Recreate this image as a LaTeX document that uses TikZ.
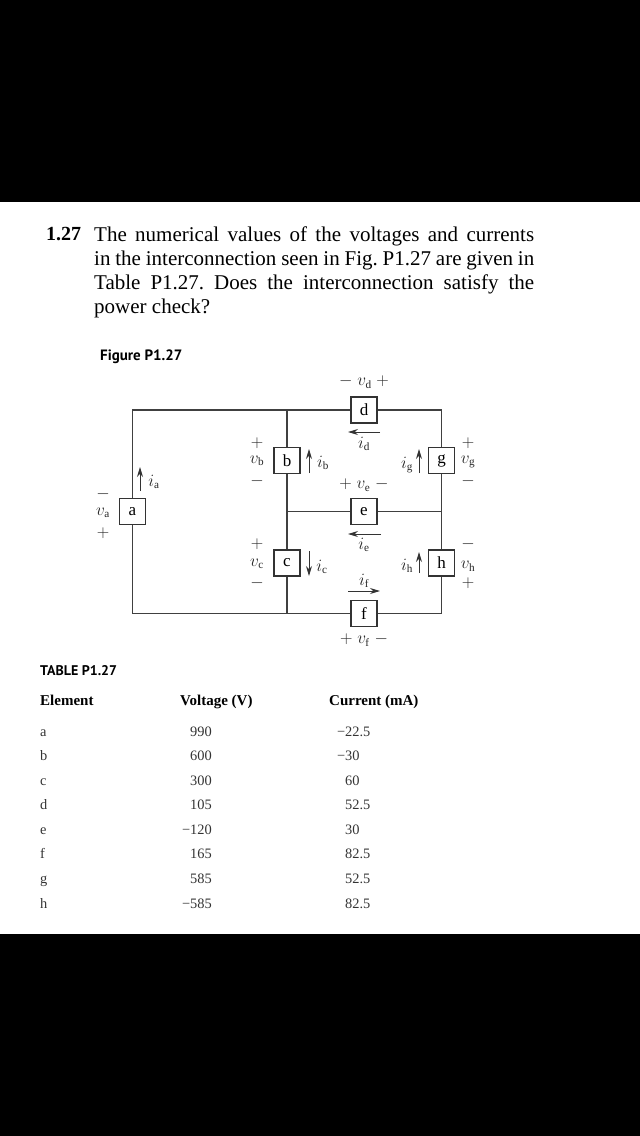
\documentclass[tikz,border=0pt]{standalone}
\usepackage{fontspec}
\setmainfont{Liberation Serif}
\newfontfamily\headfont{PT Sans}
\usepackage{tikz}
\usetikzlibrary{arrows.meta}
\frenchspacing

\begin{document}
\begin{tikzpicture}[x=1pt,y=-1pt,>={Stealth[length=10pt,width=6pt]},
    elem/.style={draw=black!80,line width=1.1pt,fill=white,minimum size=26pt,inner sep=0pt,font=\fontsize{17}{19}\selectfont},
    lab/.style={inner sep=0pt,text=black!85,font=\fontsize{16}{18}\selectfont},
    cell/.style={inner sep=0pt,text=black!80,font=\fontsize{14.4}{16}\selectfont},
    head/.style={inner sep=0pt,anchor=base west,font=\fontsize{15}{17}\selectfont\bfseries},
    sect/.style={inner sep=0pt,anchor=base west,font=\headfont\fontsize{14}{16}\selectfont\bfseries},
    wire/.style={draw=black!75,line width=1.1pt},
    cur/.style={->,draw=black!80,line width=0.9pt}]
    \useasboundingbox (0,0) rectangle (640,1136);
    \fill[black] (0,0) rectangle (640,202);
    \fill[black] (0,934) rectangle (640,1136);

    % problem text
    \node[inner sep=0pt,anchor=base west,font=\fontsize{20}{24}\selectfont\bfseries] (num) at (46,240.5) {1.27};
    \node[inner sep=0pt,anchor=north west,text width=440pt,align=justify,font=\fontsize{21}{24}\selectfont] (prob) at (94,226.5)
      {The numerical values of the voltages and currents\linebreak
       in the interconnection seen in Fig.~P1.27 are given in\linebreak
       Table P1.27. Does the interconnection satisfy the\linebreak
       power check?};
    \node[sect,font=\headfont\fontsize{15}{17}\selectfont\bfseries] (figtitle) at (100,360) {Figure P1.27};

    % circuit
    \node[elem] (a) at (132.5,511.5) {a};
    \node[elem] (b) at (287,460.5) {b};
    \node[elem] (c) at (287,563) {c};
    \node[elem] (d) at (364,410) {d};
    \node[elem] (e) at (364,511.5) {e};
    \node[elem] (f) at (364,613.5) {f};
    \node[elem] (g) at (441.5,460.5) {g};
    \node[elem] (h) at (441.5,563) {h};

    \coordinate (tl) at (132.5,410);
    \coordinate (tm) at (287,410);
    \coordinate (tr) at (441.5,410);
    \coordinate (mm) at (287,511.5);
    \coordinate (mr) at (441.5,511.5);
    \coordinate (bl) at (132.5,613.5);
    \coordinate (bm) at (287,613.5);
    \coordinate (br) at (441.5,613.5);

    \path[wire] (a) -- (tl) -- (tm) -- (d) -- (tr) -- (g) -- (mr) -- (h) -- (br) -- (f) -- (bm) -- (bl) -- (a);
    \path[wire] (tm) -- (b) -- (mm) -- (c) -- (bm);
    \path[wire] (mm) -- (e) -- (mr);

    % currents
    \coordinate (ia0) at (140,491); \coordinate (ia1) at (140,467);
    \coordinate (ib0) at (309,473); \coordinate (ib1) at (309,449);
    \coordinate (ic0) at (309,551); \coordinate (ic1) at (309,576);
    \coordinate (id0) at (380,432); \coordinate (id1) at (348,432);
    \coordinate (ie0) at (381,534); \coordinate (ie1) at (348,534);
    \coordinate (if0) at (348,591); \coordinate (if1) at (380,591);
    \coordinate (ig0) at (419,473); \coordinate (ig1) at (419,449);
    \coordinate (ih0) at (419,573); \coordinate (ih1) at (419,552);
    \foreach \p in {a,b,c,d,e,f,g,h}
      \draw[cur] (i\p0) -- (i\p1);

    \node[lab] (lia) at (154,482) {$i_{\mathrm a}$};
    \node[lab] (lib) at (323,463) {$i_{\mathrm b}$};
    \node[lab] (lic) at (322,567) {$i_{\mathrm c}$};
    \node[lab] (lid) at (364,444) {$i_{\mathrm d}$};
    \node[lab] (lie) at (364,545) {$i_{\mathrm e}$};
    \node[lab] (lif) at (364,581) {$i_{\mathrm f}$};
    \node[lab] (lig) at (407,465) {$i_{\mathrm g}$};
    \node[lab] (lih) at (407,566) {$i_{\mathrm h}$};

    % voltages
    \foreach \p/\px/\ptop/\pmid/\pbot/\pa/\pb in {
        a/103/494/513/533/$-$/$+$,
        b/257/443/461/481/$+$/$-$,
        c/257/544/564/583/$+$/$-$,
        g/468/443/462/481/$+$/$-$,
        h/468/544/566/583/$-$/$+$} {
      \node[lab] (v\p top) at (\px,\ptop) {\pa};
      \node[lab] (v\p) at (\px,\pmid) {$v_{\mathrm \p}$};
      \node[lab] (v\p bot) at (\px,\pbot) {\pb};
    }
    \node[lab] (vd) at (364,382) {$-\;v_{\mathrm d}\;+$};
    \node[lab] (ve) at (364,485) {$+\;v_{\mathrm e}\;-$};
    \node[lab] (vf) at (364,640) {$+\;v_{\mathrm f}\;-$};

    % table
    \node[sect] (tabtitle) at (40,675) {TABLE P1.27};
    \node[head] (hel) at (40,705) {Element};
    \node[head] (hvo) at (180,705) {Voltage (V)};
    \node[head] (hcu) at (329,705) {Current (mA)};
    \foreach \p/\rowy/\volt/\curr in {
        a/732/990/\llap{−}22.5,
        b/756/600/\llap{−}30,
        c/781/300/60,
        d/805/105/52.5,
        e/830/−120/30,
        f/854/165/82.5,
        g/879/585/52.5,
        h/904/−585/82.5} {
      \node[cell,anchor=base west] (row\p) at (40,\rowy+4) {\p};
      \node[cell,anchor=base east] (volt\p) at (212,\rowy+4) {\volt};
      \node[cell,anchor=base west] (curr\p) at (345,\rowy+4) {\curr};
    }
\end{tikzpicture}
\end{document}
